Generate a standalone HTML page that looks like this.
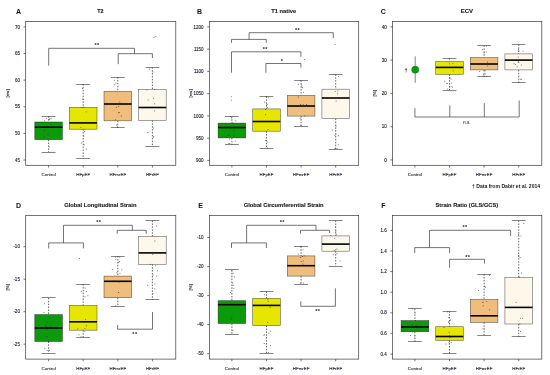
<!DOCTYPE html>
<html><head><meta charset="utf-8"><title>Figure</title>
<style>
html,body{margin:0;padding:0;background:#fff;}
svg{display:block;font-family:"Liberation Sans",Arial,sans-serif;}
</style></head>
<body>
<svg width="550" height="375" viewBox="0 0 550 375">
<rect width="550" height="375" fill="#fff"/>
<rect x="25.7" y="21.5" width="150.1" height="143.8" fill="none" stroke="#3a3a3a" stroke-width="0.7"/>
<text x="15.9" y="14.3" font-size="7.0" text-anchor="start" font-weight="bold" fill="#111">A</text>
<text x="100.3" y="13.4" font-size="6.0" text-anchor="middle" font-weight="bold" fill="#1a1a1a" textLength="6.3" lengthAdjust="spacingAndGlyphs" stroke="#1a1a1a" stroke-width="0.12">T2</text>
<line x1="23.5" y1="26.9" x2="25.7" y2="26.9" stroke="#3a3a3a" stroke-width="0.7"/>
<text x="19.9" y="28.5" font-size="4.5" text-anchor="end" font-weight="normal" fill="#17122e" stroke="#17122e" stroke-width="0.1">70</text>
<line x1="23.5" y1="53.5" x2="25.7" y2="53.5" stroke="#3a3a3a" stroke-width="0.7"/>
<text x="19.9" y="55.1" font-size="4.5" text-anchor="end" font-weight="normal" fill="#17122e" stroke="#17122e" stroke-width="0.1">65</text>
<line x1="23.5" y1="80.1" x2="25.7" y2="80.1" stroke="#3a3a3a" stroke-width="0.7"/>
<text x="19.9" y="81.7" font-size="4.5" text-anchor="end" font-weight="normal" fill="#17122e" stroke="#17122e" stroke-width="0.1">60</text>
<line x1="23.5" y1="106.8" x2="25.7" y2="106.8" stroke="#3a3a3a" stroke-width="0.7"/>
<text x="19.9" y="108.4" font-size="4.5" text-anchor="end" font-weight="normal" fill="#17122e" stroke="#17122e" stroke-width="0.1">55</text>
<line x1="23.5" y1="133.4" x2="25.7" y2="133.4" stroke="#3a3a3a" stroke-width="0.7"/>
<text x="19.9" y="135.0" font-size="4.5" text-anchor="end" font-weight="normal" fill="#17122e" stroke="#17122e" stroke-width="0.1">50</text>
<line x1="23.5" y1="160.0" x2="25.7" y2="160.0" stroke="#3a3a3a" stroke-width="0.7"/>
<text x="19.9" y="161.6" font-size="4.5" text-anchor="end" font-weight="normal" fill="#17122e" stroke="#17122e" stroke-width="0.1">45</text>
<text transform="translate(8.6,93.4) rotate(-90)" font-size="4.4" text-anchor="middle" fill="#17122e" stroke="#17122e" stroke-width="0.12">[ms]</text>
<line x1="48.6" y1="165.3" x2="48.6" y2="167.5" stroke="#3a3a3a" stroke-width="0.7"/>
<text x="48.6" y="175.7" font-size="4.4" text-anchor="middle" font-weight="normal" fill="#17122e" stroke="#17122e" stroke-width="0.08">Control</text>
<line x1="83.2" y1="165.3" x2="83.2" y2="167.5" stroke="#3a3a3a" stroke-width="0.7"/>
<text x="83.2" y="175.7" font-size="4.4" text-anchor="middle" font-weight="normal" fill="#17122e" stroke="#17122e" stroke-width="0.08">HFpEF</text>
<line x1="117.8" y1="165.3" x2="117.8" y2="167.5" stroke="#3a3a3a" stroke-width="0.7"/>
<text x="117.8" y="175.7" font-size="4.4" text-anchor="middle" font-weight="normal" fill="#17122e" stroke="#17122e" stroke-width="0.08">HFmrEF</text>
<line x1="152.4" y1="165.3" x2="152.4" y2="167.5" stroke="#3a3a3a" stroke-width="0.7"/>
<text x="152.4" y="175.7" font-size="4.4" text-anchor="middle" font-weight="normal" fill="#17122e" stroke="#17122e" stroke-width="0.08">HFrEF</text>
<line x1="48.6" y1="116.2" x2="48.6" y2="122.0" stroke="#222" stroke-width="0.7" stroke-dasharray="1.5 1.4"/>
<line x1="48.6" y1="139.6" x2="48.6" y2="152.2" stroke="#222" stroke-width="0.7" stroke-dasharray="1.5 1.4"/>
<line x1="41.7" y1="116.5" x2="55.5" y2="116.5" stroke="#333" stroke-width="0.6"/>
<line x1="41.7" y1="152.5" x2="55.5" y2="152.5" stroke="#333" stroke-width="0.6"/>
<rect x="34.8" y="122.0" width="27.6" height="17.6" fill="#0a9a0a" stroke="#000" stroke-opacity="0.6" stroke-width="0.6"/>
<line x1="34.8" y1="127.2" x2="62.4" y2="127.2" stroke="#000" stroke-width="1.6"/>
<circle cx="48.0" cy="139.6" r="0.5" fill="#2a2a2a" fill-opacity="0.8"/>
<circle cx="49.8" cy="118.8" r="0.5" fill="#2a2a2a" fill-opacity="0.8"/>
<circle cx="46.4" cy="118.3" r="0.5" fill="#2a2a2a" fill-opacity="0.8"/>
<circle cx="48.1" cy="134.5" r="0.5" fill="#2a2a2a" fill-opacity="0.8"/>
<circle cx="51.1" cy="118.7" r="0.5" fill="#2a2a2a" fill-opacity="0.8"/>
<circle cx="49.2" cy="119.5" r="0.5" fill="#2a2a2a" fill-opacity="0.8"/>
<circle cx="44.6" cy="120.7" r="0.5" fill="#2a2a2a" fill-opacity="0.8"/>
<circle cx="50.7" cy="124.2" r="0.5" fill="#2a2a2a" fill-opacity="0.8"/>
<circle cx="44.5" cy="137.0" r="0.5" fill="#2a2a2a" fill-opacity="0.8"/>
<circle cx="44.4" cy="130.5" r="0.5" fill="#2a2a2a" fill-opacity="0.8"/>
<circle cx="49.3" cy="147.1" r="0.5" fill="#2a2a2a" fill-opacity="0.8"/>
<circle cx="48.5" cy="126.6" r="0.5" fill="#2a2a2a" fill-opacity="0.8"/>
<line x1="83.2" y1="84.0" x2="83.2" y2="107.3" stroke="#222" stroke-width="0.7" stroke-dasharray="1.5 1.4"/>
<line x1="83.2" y1="129.2" x2="83.2" y2="158.4" stroke="#222" stroke-width="0.7" stroke-dasharray="1.5 1.4"/>
<line x1="76.3" y1="84.5" x2="90.1" y2="84.5" stroke="#333" stroke-width="0.6"/>
<line x1="76.3" y1="158.5" x2="90.1" y2="158.5" stroke="#333" stroke-width="0.6"/>
<rect x="69.4" y="107.3" width="27.6" height="21.9" fill="#e6e600" stroke="#000" stroke-opacity="0.6" stroke-width="0.6"/>
<line x1="69.4" y1="122.9" x2="97.0" y2="122.9" stroke="#000" stroke-width="1.6"/>
<circle cx="83.9" cy="107.0" r="0.5" fill="#2a2a2a" fill-opacity="0.8"/>
<circle cx="84.1" cy="144.7" r="0.5" fill="#2a2a2a" fill-opacity="0.8"/>
<circle cx="84.5" cy="131.5" r="0.5" fill="#2a2a2a" fill-opacity="0.8"/>
<circle cx="86.1" cy="111.7" r="0.5" fill="#2a2a2a" fill-opacity="0.8"/>
<circle cx="82.4" cy="88.4" r="0.5" fill="#2a2a2a" fill-opacity="0.8"/>
<circle cx="82.9" cy="99.3" r="0.5" fill="#2a2a2a" fill-opacity="0.8"/>
<circle cx="82.1" cy="107.4" r="0.5" fill="#2a2a2a" fill-opacity="0.8"/>
<circle cx="80.9" cy="127.6" r="0.5" fill="#2a2a2a" fill-opacity="0.8"/>
<circle cx="81.3" cy="143.1" r="0.5" fill="#2a2a2a" fill-opacity="0.8"/>
<circle cx="83.8" cy="136.0" r="0.5" fill="#2a2a2a" fill-opacity="0.8"/>
<circle cx="83.3" cy="123.1" r="0.5" fill="#2a2a2a" fill-opacity="0.8"/>
<circle cx="86.3" cy="149.1" r="0.5" fill="#2a2a2a" fill-opacity="0.8"/>
<line x1="117.8" y1="77.1" x2="117.8" y2="91.4" stroke="#222" stroke-width="0.7" stroke-dasharray="1.5 1.4"/>
<line x1="117.8" y1="120.8" x2="117.8" y2="127.9" stroke="#222" stroke-width="0.7" stroke-dasharray="1.5 1.4"/>
<line x1="110.9" y1="77.5" x2="124.7" y2="77.5" stroke="#333" stroke-width="0.6"/>
<line x1="110.9" y1="127.5" x2="124.7" y2="127.5" stroke="#333" stroke-width="0.6"/>
<rect x="104.0" y="91.4" width="27.6" height="29.4" fill="#efbe7d" stroke="#000" stroke-opacity="0.6" stroke-width="0.6"/>
<line x1="104.0" y1="104.0" x2="131.6" y2="104.0" stroke="#000" stroke-width="1.6"/>
<circle cx="117.5" cy="126.9" r="0.5" fill="#2a2a2a" fill-opacity="0.8"/>
<circle cx="115.8" cy="83.1" r="0.5" fill="#2a2a2a" fill-opacity="0.8"/>
<circle cx="114.3" cy="84.8" r="0.5" fill="#2a2a2a" fill-opacity="0.8"/>
<circle cx="119.8" cy="101.9" r="0.5" fill="#2a2a2a" fill-opacity="0.8"/>
<circle cx="121.3" cy="115.9" r="0.5" fill="#2a2a2a" fill-opacity="0.8"/>
<circle cx="118.7" cy="106.2" r="0.5" fill="#2a2a2a" fill-opacity="0.8"/>
<circle cx="119.3" cy="112.4" r="0.5" fill="#2a2a2a" fill-opacity="0.8"/>
<circle cx="116.3" cy="107.3" r="0.5" fill="#2a2a2a" fill-opacity="0.8"/>
<circle cx="115.5" cy="119.8" r="0.5" fill="#2a2a2a" fill-opacity="0.8"/>
<circle cx="116.5" cy="125.1" r="0.5" fill="#2a2a2a" fill-opacity="0.8"/>
<circle cx="114.3" cy="80.2" r="0.5" fill="#2a2a2a" fill-opacity="0.8"/>
<circle cx="118.4" cy="112.7" r="0.5" fill="#2a2a2a" fill-opacity="0.8"/>
<line x1="152.4" y1="67.2" x2="152.4" y2="89.4" stroke="#222" stroke-width="0.7" stroke-dasharray="1.5 1.4"/>
<line x1="152.4" y1="120.4" x2="152.4" y2="146.5" stroke="#222" stroke-width="0.7" stroke-dasharray="1.5 1.4"/>
<line x1="145.5" y1="67.5" x2="159.3" y2="67.5" stroke="#333" stroke-width="0.6"/>
<line x1="145.5" y1="146.5" x2="159.3" y2="146.5" stroke="#333" stroke-width="0.6"/>
<rect x="138.6" y="89.4" width="27.6" height="31.0" fill="#fdf8ea" stroke="#000" stroke-opacity="0.6" stroke-width="0.6"/>
<line x1="138.6" y1="107.5" x2="166.2" y2="107.5" stroke="#000" stroke-width="1.6"/>
<circle cx="147.8" cy="132.4" r="0.5" fill="#2a2a2a" fill-opacity="0.8"/>
<circle cx="146.9" cy="89.8" r="0.5" fill="#2a2a2a" fill-opacity="0.8"/>
<circle cx="149.7" cy="69.0" r="0.5" fill="#2a2a2a" fill-opacity="0.8"/>
<circle cx="154.7" cy="103.8" r="0.5" fill="#2a2a2a" fill-opacity="0.8"/>
<circle cx="153.0" cy="71.9" r="0.5" fill="#2a2a2a" fill-opacity="0.8"/>
<circle cx="153.4" cy="128.1" r="0.5" fill="#2a2a2a" fill-opacity="0.8"/>
<circle cx="153.6" cy="98.2" r="0.5" fill="#2a2a2a" fill-opacity="0.8"/>
<circle cx="153.7" cy="136.3" r="0.5" fill="#2a2a2a" fill-opacity="0.8"/>
<circle cx="154.7" cy="110.8" r="0.5" fill="#2a2a2a" fill-opacity="0.8"/>
<circle cx="153.7" cy="137.3" r="0.5" fill="#2a2a2a" fill-opacity="0.8"/>
<circle cx="154.4" cy="89.3" r="0.5" fill="#2a2a2a" fill-opacity="0.8"/>
<circle cx="148.1" cy="100.1" r="0.5" fill="#2a2a2a" fill-opacity="0.8"/>
<circle cx="154.0" cy="37.6" r="0.5" fill="#2a2a2a" fill-opacity="0.8"/>
<circle cx="155.8" cy="36.4" r="0.5" fill="#2a2a2a" fill-opacity="0.8"/>
<polyline points="48.7,65.7 48.7,48.3 134.5,48.3 134.5,53.7" fill="none" stroke="#3a3a3a" stroke-width="0.7"/>
<polyline points="118.2,64.2 118.2,53.7 152.4,53.7 152.4,58.0" fill="none" stroke="#3a3a3a" stroke-width="0.7"/>
<text x="97.1" y="47.4" font-size="5.6" text-anchor="middle" font-weight="bold" fill="#1a1a1a" letter-spacing="0.35">**</text>
<rect x="209.4" y="21.5" width="149.3" height="143.8" fill="none" stroke="#3a3a3a" stroke-width="0.7"/>
<text x="197.1" y="14.3" font-size="7.0" text-anchor="start" font-weight="bold" fill="#111">B</text>
<text x="283.7" y="13.4" font-size="6.0" text-anchor="middle" font-weight="bold" fill="#1a1a1a" textLength="25.0" lengthAdjust="spacingAndGlyphs" stroke="#1a1a1a" stroke-width="0.12">T1 native</text>
<line x1="207.2" y1="26.9" x2="209.4" y2="26.9" stroke="#3a3a3a" stroke-width="0.7"/>
<text x="203.6" y="28.5" font-size="4.5" text-anchor="end" font-weight="normal" fill="#17122e" stroke="#17122e" stroke-width="0.1">1200</text>
<line x1="207.2" y1="49.1" x2="209.4" y2="49.1" stroke="#3a3a3a" stroke-width="0.7"/>
<text x="203.6" y="50.8" font-size="4.5" text-anchor="end" font-weight="normal" fill="#17122e" stroke="#17122e" stroke-width="0.1">1150</text>
<line x1="207.2" y1="71.4" x2="209.4" y2="71.4" stroke="#3a3a3a" stroke-width="0.7"/>
<text x="203.6" y="73.0" font-size="4.5" text-anchor="end" font-weight="normal" fill="#17122e" stroke="#17122e" stroke-width="0.1">1100</text>
<line x1="207.2" y1="93.7" x2="209.4" y2="93.7" stroke="#3a3a3a" stroke-width="0.7"/>
<text x="203.6" y="95.2" font-size="4.5" text-anchor="end" font-weight="normal" fill="#17122e" stroke="#17122e" stroke-width="0.1">1050</text>
<line x1="207.2" y1="115.9" x2="209.4" y2="115.9" stroke="#3a3a3a" stroke-width="0.7"/>
<text x="203.6" y="117.5" font-size="4.5" text-anchor="end" font-weight="normal" fill="#17122e" stroke="#17122e" stroke-width="0.1">1000</text>
<line x1="207.2" y1="138.2" x2="209.4" y2="138.2" stroke="#3a3a3a" stroke-width="0.7"/>
<text x="203.6" y="139.8" font-size="4.5" text-anchor="end" font-weight="normal" fill="#17122e" stroke="#17122e" stroke-width="0.1">950</text>
<line x1="207.2" y1="160.4" x2="209.4" y2="160.4" stroke="#3a3a3a" stroke-width="0.7"/>
<text x="203.6" y="162.0" font-size="4.5" text-anchor="end" font-weight="normal" fill="#17122e" stroke="#17122e" stroke-width="0.1">900</text>
<text transform="translate(192.3,93.4) rotate(-90)" font-size="4.4" text-anchor="middle" fill="#17122e" stroke="#17122e" stroke-width="0.12">[ms]</text>
<line x1="231.9" y1="165.3" x2="231.9" y2="167.5" stroke="#3a3a3a" stroke-width="0.7"/>
<text x="231.9" y="175.7" font-size="4.4" text-anchor="middle" font-weight="normal" fill="#17122e" stroke="#17122e" stroke-width="0.08">Control</text>
<line x1="266.5" y1="165.3" x2="266.5" y2="167.5" stroke="#3a3a3a" stroke-width="0.7"/>
<text x="266.5" y="175.7" font-size="4.4" text-anchor="middle" font-weight="normal" fill="#17122e" stroke="#17122e" stroke-width="0.08">HFpEF</text>
<line x1="301.1" y1="165.3" x2="301.1" y2="167.5" stroke="#3a3a3a" stroke-width="0.7"/>
<text x="301.1" y="175.7" font-size="4.4" text-anchor="middle" font-weight="normal" fill="#17122e" stroke="#17122e" stroke-width="0.08">HFmrEF</text>
<line x1="335.7" y1="165.3" x2="335.7" y2="167.5" stroke="#3a3a3a" stroke-width="0.7"/>
<text x="335.7" y="175.7" font-size="4.4" text-anchor="middle" font-weight="normal" fill="#17122e" stroke="#17122e" stroke-width="0.08">HFrEF</text>
<line x1="231.9" y1="116.4" x2="231.9" y2="123.1" stroke="#222" stroke-width="0.7" stroke-dasharray="1.5 1.4"/>
<line x1="231.9" y1="137.9" x2="231.9" y2="144.7" stroke="#222" stroke-width="0.7" stroke-dasharray="1.5 1.4"/>
<line x1="225.0" y1="116.5" x2="238.8" y2="116.5" stroke="#333" stroke-width="0.6"/>
<line x1="225.0" y1="144.5" x2="238.8" y2="144.5" stroke="#333" stroke-width="0.6"/>
<rect x="218.1" y="123.1" width="27.6" height="14.8" fill="#0a9a0a" stroke="#000" stroke-opacity="0.6" stroke-width="0.6"/>
<line x1="218.1" y1="127.5" x2="245.7" y2="127.5" stroke="#000" stroke-width="1.6"/>
<circle cx="228.8" cy="143.5" r="0.5" fill="#2a2a2a" fill-opacity="0.8"/>
<circle cx="235.8" cy="120.7" r="0.5" fill="#2a2a2a" fill-opacity="0.8"/>
<circle cx="232.7" cy="123.0" r="0.5" fill="#2a2a2a" fill-opacity="0.8"/>
<circle cx="233.5" cy="130.1" r="0.5" fill="#2a2a2a" fill-opacity="0.8"/>
<circle cx="230.3" cy="116.5" r="0.5" fill="#2a2a2a" fill-opacity="0.8"/>
<circle cx="230.9" cy="128.3" r="0.5" fill="#2a2a2a" fill-opacity="0.8"/>
<circle cx="229.8" cy="143.4" r="0.5" fill="#2a2a2a" fill-opacity="0.8"/>
<circle cx="234.2" cy="135.9" r="0.5" fill="#2a2a2a" fill-opacity="0.8"/>
<circle cx="228.6" cy="135.5" r="0.5" fill="#2a2a2a" fill-opacity="0.8"/>
<circle cx="231.6" cy="117.9" r="0.5" fill="#2a2a2a" fill-opacity="0.8"/>
<circle cx="235.3" cy="141.1" r="0.5" fill="#2a2a2a" fill-opacity="0.8"/>
<circle cx="229.4" cy="139.0" r="0.5" fill="#2a2a2a" fill-opacity="0.8"/>
<line x1="266.5" y1="96.5" x2="266.5" y2="108.9" stroke="#222" stroke-width="0.7" stroke-dasharray="1.5 1.4"/>
<line x1="266.5" y1="131.2" x2="266.5" y2="148.5" stroke="#222" stroke-width="0.7" stroke-dasharray="1.5 1.4"/>
<line x1="259.6" y1="96.5" x2="273.4" y2="96.5" stroke="#333" stroke-width="0.6"/>
<line x1="259.6" y1="148.5" x2="273.4" y2="148.5" stroke="#333" stroke-width="0.6"/>
<rect x="252.7" y="108.9" width="27.6" height="22.3" fill="#e6e600" stroke="#000" stroke-opacity="0.6" stroke-width="0.6"/>
<line x1="252.7" y1="121.5" x2="280.3" y2="121.5" stroke="#000" stroke-width="1.6"/>
<circle cx="264.6" cy="101.9" r="0.5" fill="#2a2a2a" fill-opacity="0.8"/>
<circle cx="268.0" cy="129.5" r="0.5" fill="#2a2a2a" fill-opacity="0.8"/>
<circle cx="267.3" cy="107.4" r="0.5" fill="#2a2a2a" fill-opacity="0.8"/>
<circle cx="266.8" cy="104.9" r="0.5" fill="#2a2a2a" fill-opacity="0.8"/>
<circle cx="266.1" cy="96.5" r="0.5" fill="#2a2a2a" fill-opacity="0.8"/>
<circle cx="267.2" cy="104.4" r="0.5" fill="#2a2a2a" fill-opacity="0.8"/>
<circle cx="268.3" cy="97.8" r="0.5" fill="#2a2a2a" fill-opacity="0.8"/>
<circle cx="267.9" cy="142.0" r="0.5" fill="#2a2a2a" fill-opacity="0.8"/>
<circle cx="265.5" cy="109.6" r="0.5" fill="#2a2a2a" fill-opacity="0.8"/>
<circle cx="265.6" cy="114.6" r="0.5" fill="#2a2a2a" fill-opacity="0.8"/>
<circle cx="265.7" cy="140.6" r="0.5" fill="#2a2a2a" fill-opacity="0.8"/>
<circle cx="267.4" cy="148.1" r="0.5" fill="#2a2a2a" fill-opacity="0.8"/>
<line x1="301.1" y1="80.3" x2="301.1" y2="95.4" stroke="#222" stroke-width="0.7" stroke-dasharray="1.5 1.4"/>
<line x1="301.1" y1="116.1" x2="301.1" y2="126.2" stroke="#222" stroke-width="0.7" stroke-dasharray="1.5 1.4"/>
<line x1="294.2" y1="80.5" x2="308.0" y2="80.5" stroke="#333" stroke-width="0.6"/>
<line x1="294.2" y1="126.5" x2="308.0" y2="126.5" stroke="#333" stroke-width="0.6"/>
<rect x="287.3" y="95.4" width="27.6" height="20.7" fill="#efbe7d" stroke="#000" stroke-opacity="0.6" stroke-width="0.6"/>
<line x1="287.3" y1="106.0" x2="314.9" y2="106.0" stroke="#000" stroke-width="1.6"/>
<circle cx="298.4" cy="84.2" r="0.5" fill="#2a2a2a" fill-opacity="0.8"/>
<circle cx="301.7" cy="85.0" r="0.5" fill="#2a2a2a" fill-opacity="0.8"/>
<circle cx="300.1" cy="118.3" r="0.5" fill="#2a2a2a" fill-opacity="0.8"/>
<circle cx="302.7" cy="87.7" r="0.5" fill="#2a2a2a" fill-opacity="0.8"/>
<circle cx="306.6" cy="104.5" r="0.5" fill="#2a2a2a" fill-opacity="0.8"/>
<circle cx="302.0" cy="87.0" r="0.5" fill="#2a2a2a" fill-opacity="0.8"/>
<circle cx="300.6" cy="104.5" r="0.5" fill="#2a2a2a" fill-opacity="0.8"/>
<circle cx="300.9" cy="125.2" r="0.5" fill="#2a2a2a" fill-opacity="0.8"/>
<circle cx="303.5" cy="92.3" r="0.5" fill="#2a2a2a" fill-opacity="0.8"/>
<circle cx="298.3" cy="97.1" r="0.5" fill="#2a2a2a" fill-opacity="0.8"/>
<circle cx="303.2" cy="104.7" r="0.5" fill="#2a2a2a" fill-opacity="0.8"/>
<circle cx="304.7" cy="116.1" r="0.5" fill="#2a2a2a" fill-opacity="0.8"/>
<line x1="335.7" y1="74.4" x2="335.7" y2="89.2" stroke="#222" stroke-width="0.7" stroke-dasharray="1.5 1.4"/>
<line x1="335.7" y1="118.6" x2="335.7" y2="149.4" stroke="#222" stroke-width="0.7" stroke-dasharray="1.5 1.4"/>
<line x1="328.8" y1="74.5" x2="342.6" y2="74.5" stroke="#333" stroke-width="0.6"/>
<line x1="328.8" y1="149.5" x2="342.6" y2="149.5" stroke="#333" stroke-width="0.6"/>
<rect x="321.9" y="89.2" width="27.6" height="29.4" fill="#fdf8ea" stroke="#000" stroke-opacity="0.6" stroke-width="0.6"/>
<line x1="321.9" y1="98.0" x2="349.5" y2="98.0" stroke="#000" stroke-width="1.6"/>
<circle cx="334.9" cy="135.3" r="0.5" fill="#2a2a2a" fill-opacity="0.8"/>
<circle cx="337.2" cy="148.3" r="0.5" fill="#2a2a2a" fill-opacity="0.8"/>
<circle cx="338.3" cy="135.8" r="0.5" fill="#2a2a2a" fill-opacity="0.8"/>
<circle cx="332.2" cy="129.9" r="0.5" fill="#2a2a2a" fill-opacity="0.8"/>
<circle cx="336.1" cy="101.1" r="0.5" fill="#2a2a2a" fill-opacity="0.8"/>
<circle cx="338.6" cy="76.6" r="0.5" fill="#2a2a2a" fill-opacity="0.8"/>
<circle cx="337.6" cy="93.8" r="0.5" fill="#2a2a2a" fill-opacity="0.8"/>
<circle cx="336.0" cy="126.3" r="0.5" fill="#2a2a2a" fill-opacity="0.8"/>
<circle cx="338.2" cy="144.7" r="0.5" fill="#2a2a2a" fill-opacity="0.8"/>
<circle cx="335.0" cy="148.5" r="0.5" fill="#2a2a2a" fill-opacity="0.8"/>
<circle cx="337.9" cy="90.9" r="0.5" fill="#2a2a2a" fill-opacity="0.8"/>
<circle cx="335.1" cy="91.4" r="0.5" fill="#2a2a2a" fill-opacity="0.8"/>
<circle cx="231.3" cy="96.8" r="0.5" fill="#2a2a2a" fill-opacity="0.8"/>
<circle cx="231.3" cy="100.1" r="0.5" fill="#2a2a2a" fill-opacity="0.8"/>
<circle cx="335.0" cy="44.5" r="0.5" fill="#2a2a2a" fill-opacity="0.8"/>
<circle cx="304.7" cy="59.6" r="0.5" fill="#2a2a2a" fill-opacity="0.8"/>
<polyline points="249.1,39.4 249.1,32.7 333.3,32.7 333.3,38.3" fill="none" stroke="#3a3a3a" stroke-width="0.7"/>
<polyline points="231.5,42.8 231.5,39.4 266.3,39.4 266.3,42.8" fill="none" stroke="#3a3a3a" stroke-width="0.7"/>
<text x="297.6" y="31.8" font-size="5.6" text-anchor="middle" font-weight="bold" fill="#1a1a1a" letter-spacing="0.35">**</text>
<polyline points="231.5,72.7 231.5,51.8 300.9,51.8 300.9,56.8" fill="none" stroke="#3a3a3a" stroke-width="0.7"/>
<text x="265.2" y="50.7" font-size="5.6" text-anchor="middle" font-weight="bold" fill="#1a1a1a" letter-spacing="0.35">**</text>
<polyline points="265.9,72.7 265.9,63.5 300.9,63.5 300.9,67.7" fill="none" stroke="#3a3a3a" stroke-width="0.7"/>
<text x="282.0" y="63.4" font-size="5.6" text-anchor="middle" font-weight="bold" fill="#1a1a1a" letter-spacing="0.35">*</text>
<rect x="392.6" y="21.5" width="149.2" height="143.8" fill="none" stroke="#3a3a3a" stroke-width="0.7"/>
<text x="380.8" y="14.3" font-size="7.0" text-anchor="start" font-weight="bold" fill="#111">C</text>
<text x="466.8" y="13.4" font-size="6.0" text-anchor="middle" font-weight="bold" fill="#1a1a1a" textLength="12.3" lengthAdjust="spacingAndGlyphs" stroke="#1a1a1a" stroke-width="0.12">ECV</text>
<line x1="390.4" y1="26.9" x2="392.6" y2="26.9" stroke="#3a3a3a" stroke-width="0.7"/>
<text x="386.8" y="28.5" font-size="4.5" text-anchor="end" font-weight="normal" fill="#17122e" stroke="#17122e" stroke-width="0.1">40</text>
<line x1="390.4" y1="60.1" x2="392.6" y2="60.1" stroke="#3a3a3a" stroke-width="0.7"/>
<text x="386.8" y="61.8" font-size="4.5" text-anchor="end" font-weight="normal" fill="#17122e" stroke="#17122e" stroke-width="0.1">30</text>
<line x1="390.4" y1="93.4" x2="392.6" y2="93.4" stroke="#3a3a3a" stroke-width="0.7"/>
<text x="386.8" y="95.0" font-size="4.5" text-anchor="end" font-weight="normal" fill="#17122e" stroke="#17122e" stroke-width="0.1">20</text>
<line x1="390.4" y1="126.7" x2="392.6" y2="126.7" stroke="#3a3a3a" stroke-width="0.7"/>
<text x="386.8" y="128.2" font-size="4.5" text-anchor="end" font-weight="normal" fill="#17122e" stroke="#17122e" stroke-width="0.1">10</text>
<line x1="390.4" y1="159.9" x2="392.6" y2="159.9" stroke="#3a3a3a" stroke-width="0.7"/>
<text x="386.8" y="161.5" font-size="4.5" text-anchor="end" font-weight="normal" fill="#17122e" stroke="#17122e" stroke-width="0.1">0</text>
<text transform="translate(375.5,93.4) rotate(-90)" font-size="4.4" text-anchor="middle" fill="#17122e" stroke="#17122e" stroke-width="0.12">[%]</text>
<line x1="414.9" y1="165.3" x2="414.9" y2="167.5" stroke="#3a3a3a" stroke-width="0.7"/>
<text x="414.9" y="175.7" font-size="4.4" text-anchor="middle" font-weight="normal" fill="#17122e" stroke="#17122e" stroke-width="0.08">Control</text>
<line x1="449.5" y1="165.3" x2="449.5" y2="167.5" stroke="#3a3a3a" stroke-width="0.7"/>
<text x="449.5" y="175.7" font-size="4.4" text-anchor="middle" font-weight="normal" fill="#17122e" stroke="#17122e" stroke-width="0.08">HFpEF</text>
<line x1="484.1" y1="165.3" x2="484.1" y2="167.5" stroke="#3a3a3a" stroke-width="0.7"/>
<text x="484.1" y="175.7" font-size="4.4" text-anchor="middle" font-weight="normal" fill="#17122e" stroke="#17122e" stroke-width="0.08">HFmrEF</text>
<line x1="518.7" y1="165.3" x2="518.7" y2="167.5" stroke="#3a3a3a" stroke-width="0.7"/>
<text x="518.7" y="175.7" font-size="4.4" text-anchor="middle" font-weight="normal" fill="#17122e" stroke="#17122e" stroke-width="0.08">HFrEF</text>
<line x1="449.5" y1="58.1" x2="449.5" y2="61.5" stroke="#222" stroke-width="0.7" stroke-dasharray="1.5 1.4"/>
<line x1="449.5" y1="74.4" x2="449.5" y2="90.0" stroke="#222" stroke-width="0.7" stroke-dasharray="1.5 1.4"/>
<line x1="442.6" y1="58.5" x2="456.4" y2="58.5" stroke="#333" stroke-width="0.6"/>
<line x1="442.6" y1="90.5" x2="456.4" y2="90.5" stroke="#333" stroke-width="0.6"/>
<rect x="435.7" y="61.5" width="27.6" height="12.9" fill="#e6e600" stroke="#000" stroke-opacity="0.6" stroke-width="0.6"/>
<line x1="435.7" y1="67.4" x2="463.3" y2="67.4" stroke="#000" stroke-width="1.6"/>
<circle cx="450.0" cy="78.0" r="0.5" fill="#2a2a2a" fill-opacity="0.8"/>
<circle cx="451.0" cy="86.8" r="0.5" fill="#2a2a2a" fill-opacity="0.8"/>
<circle cx="451.0" cy="78.9" r="0.5" fill="#2a2a2a" fill-opacity="0.8"/>
<circle cx="447.2" cy="83.6" r="0.5" fill="#2a2a2a" fill-opacity="0.8"/>
<circle cx="452.5" cy="87.1" r="0.5" fill="#2a2a2a" fill-opacity="0.8"/>
<circle cx="451.3" cy="83.1" r="0.5" fill="#2a2a2a" fill-opacity="0.8"/>
<circle cx="449.5" cy="63.8" r="0.5" fill="#2a2a2a" fill-opacity="0.8"/>
<circle cx="446.8" cy="83.3" r="0.5" fill="#2a2a2a" fill-opacity="0.8"/>
<circle cx="447.4" cy="89.1" r="0.5" fill="#2a2a2a" fill-opacity="0.8"/>
<circle cx="453.2" cy="70.7" r="0.5" fill="#2a2a2a" fill-opacity="0.8"/>
<circle cx="444.8" cy="81.2" r="0.5" fill="#2a2a2a" fill-opacity="0.8"/>
<circle cx="452.9" cy="63.5" r="0.5" fill="#2a2a2a" fill-opacity="0.8"/>
<line x1="484.1" y1="45.5" x2="484.1" y2="57.6" stroke="#222" stroke-width="0.7" stroke-dasharray="1.5 1.4"/>
<line x1="484.1" y1="69.9" x2="484.1" y2="76.9" stroke="#222" stroke-width="0.7" stroke-dasharray="1.5 1.4"/>
<line x1="477.2" y1="45.5" x2="491.0" y2="45.5" stroke="#333" stroke-width="0.6"/>
<line x1="477.2" y1="76.5" x2="491.0" y2="76.5" stroke="#333" stroke-width="0.6"/>
<rect x="470.3" y="57.6" width="27.6" height="12.3" fill="#efbe7d" stroke="#000" stroke-opacity="0.6" stroke-width="0.6"/>
<line x1="470.3" y1="64.0" x2="497.9" y2="64.0" stroke="#000" stroke-width="1.6"/>
<circle cx="485.1" cy="73.9" r="0.5" fill="#2a2a2a" fill-opacity="0.8"/>
<circle cx="485.1" cy="70.8" r="0.5" fill="#2a2a2a" fill-opacity="0.8"/>
<circle cx="486.8" cy="76.3" r="0.5" fill="#2a2a2a" fill-opacity="0.8"/>
<circle cx="487.7" cy="66.1" r="0.5" fill="#2a2a2a" fill-opacity="0.8"/>
<circle cx="482.3" cy="49.6" r="0.5" fill="#2a2a2a" fill-opacity="0.8"/>
<circle cx="486.5" cy="45.9" r="0.5" fill="#2a2a2a" fill-opacity="0.8"/>
<circle cx="487.5" cy="62.0" r="0.5" fill="#2a2a2a" fill-opacity="0.8"/>
<circle cx="483.5" cy="74.8" r="0.5" fill="#2a2a2a" fill-opacity="0.8"/>
<circle cx="479.7" cy="71.4" r="0.5" fill="#2a2a2a" fill-opacity="0.8"/>
<circle cx="486.1" cy="52.1" r="0.5" fill="#2a2a2a" fill-opacity="0.8"/>
<circle cx="484.1" cy="53.1" r="0.5" fill="#2a2a2a" fill-opacity="0.8"/>
<circle cx="486.1" cy="63.9" r="0.5" fill="#2a2a2a" fill-opacity="0.8"/>
<line x1="518.7" y1="44.5" x2="518.7" y2="53.9" stroke="#222" stroke-width="0.7" stroke-dasharray="1.5 1.4"/>
<line x1="518.7" y1="69.9" x2="518.7" y2="82.8" stroke="#222" stroke-width="0.7" stroke-dasharray="1.5 1.4"/>
<line x1="511.8" y1="44.5" x2="525.6" y2="44.5" stroke="#333" stroke-width="0.6"/>
<line x1="511.8" y1="82.5" x2="525.6" y2="82.5" stroke="#333" stroke-width="0.6"/>
<rect x="504.9" y="53.9" width="27.6" height="16.0" fill="#fdf8ea" stroke="#000" stroke-opacity="0.6" stroke-width="0.6"/>
<line x1="504.9" y1="60.1" x2="532.5" y2="60.1" stroke="#000" stroke-width="1.6"/>
<circle cx="518.6" cy="49.5" r="0.5" fill="#2a2a2a" fill-opacity="0.8"/>
<circle cx="521.2" cy="79.4" r="0.5" fill="#2a2a2a" fill-opacity="0.8"/>
<circle cx="517.1" cy="66.8" r="0.5" fill="#2a2a2a" fill-opacity="0.8"/>
<circle cx="520.8" cy="79.1" r="0.5" fill="#2a2a2a" fill-opacity="0.8"/>
<circle cx="514.0" cy="63.7" r="0.5" fill="#2a2a2a" fill-opacity="0.8"/>
<circle cx="521.3" cy="64.9" r="0.5" fill="#2a2a2a" fill-opacity="0.8"/>
<circle cx="518.2" cy="61.4" r="0.5" fill="#2a2a2a" fill-opacity="0.8"/>
<circle cx="518.6" cy="51.5" r="0.5" fill="#2a2a2a" fill-opacity="0.8"/>
<circle cx="523.0" cy="51.1" r="0.5" fill="#2a2a2a" fill-opacity="0.8"/>
<circle cx="518.8" cy="62.6" r="0.5" fill="#2a2a2a" fill-opacity="0.8"/>
<circle cx="518.2" cy="57.0" r="0.5" fill="#2a2a2a" fill-opacity="0.8"/>
<circle cx="515.7" cy="64.4" r="0.5" fill="#2a2a2a" fill-opacity="0.8"/>
<line x1="415.2" y1="56.3" x2="415.2" y2="82.8" stroke="#666" stroke-width="0.8"/>
<circle cx="415.2" cy="69.7" r="3.6" fill="#0a9a0a" stroke="#087808" stroke-width="0.4"/>
<text x="406.0" y="71.8" font-size="5.6" text-anchor="middle" font-weight="bold" fill="#222">†</text>
<polyline points="414.9,108.1 414.9,117.0 519.2,117.0 519.2,100.5" fill="none" stroke="#3a3a3a" stroke-width="0.7"/>
<line x1="449.8" y1="105.4" x2="449.8" y2="117.0" stroke="#3a3a3a" stroke-width="0.7"/>
<line x1="484.3" y1="103.2" x2="484.3" y2="117.0" stroke="#3a3a3a" stroke-width="0.7"/>
<text x="466.8" y="124.4" font-size="4.7" text-anchor="middle" font-weight="normal" fill="#111">n.s.</text>
<text x="540.2" y="187.5" font-size="5.1" text-anchor="end" font-weight="bold" fill="#1a1a1a">† Data from Dabir et al. 2014</text>
<rect x="25.7" y="215.6" width="150.1" height="143.5" fill="none" stroke="#3a3a3a" stroke-width="0.7"/>
<text x="15.9" y="207.5" font-size="7.0" text-anchor="start" font-weight="bold" fill="#111">D</text>
<text x="100.3" y="206.9" font-size="6.0" text-anchor="middle" font-weight="bold" fill="#1a1a1a" textLength="72.3" lengthAdjust="spacingAndGlyphs" stroke="#1a1a1a" stroke-width="0.12">Global Longitudinal Strain</text>
<line x1="23.5" y1="246.7" x2="25.7" y2="246.7" stroke="#3a3a3a" stroke-width="0.7"/>
<text x="19.9" y="248.3" font-size="4.5" text-anchor="end" font-weight="normal" fill="#17122e" stroke="#17122e" stroke-width="0.1">-10</text>
<line x1="23.5" y1="279.2" x2="25.7" y2="279.2" stroke="#3a3a3a" stroke-width="0.7"/>
<text x="19.9" y="280.8" font-size="4.5" text-anchor="end" font-weight="normal" fill="#17122e" stroke="#17122e" stroke-width="0.1">-15</text>
<line x1="23.5" y1="311.7" x2="25.7" y2="311.7" stroke="#3a3a3a" stroke-width="0.7"/>
<text x="19.9" y="313.3" font-size="4.5" text-anchor="end" font-weight="normal" fill="#17122e" stroke="#17122e" stroke-width="0.1">-20</text>
<line x1="23.5" y1="344.2" x2="25.7" y2="344.2" stroke="#3a3a3a" stroke-width="0.7"/>
<text x="19.9" y="345.8" font-size="4.5" text-anchor="end" font-weight="normal" fill="#17122e" stroke="#17122e" stroke-width="0.1">-25</text>
<text transform="translate(8.6,287.4) rotate(-90)" font-size="4.4" text-anchor="middle" fill="#17122e" stroke="#17122e" stroke-width="0.12">[%]</text>
<line x1="48.6" y1="359.1" x2="48.6" y2="361.3" stroke="#3a3a3a" stroke-width="0.7"/>
<text x="48.6" y="369.5" font-size="4.4" text-anchor="middle" font-weight="normal" fill="#17122e" stroke="#17122e" stroke-width="0.08">Control</text>
<line x1="83.2" y1="359.1" x2="83.2" y2="361.3" stroke="#3a3a3a" stroke-width="0.7"/>
<text x="83.2" y="369.5" font-size="4.4" text-anchor="middle" font-weight="normal" fill="#17122e" stroke="#17122e" stroke-width="0.08">HFpEF</text>
<line x1="117.8" y1="359.1" x2="117.8" y2="361.3" stroke="#3a3a3a" stroke-width="0.7"/>
<text x="117.8" y="369.5" font-size="4.4" text-anchor="middle" font-weight="normal" fill="#17122e" stroke="#17122e" stroke-width="0.08">HFmrEF</text>
<line x1="152.4" y1="359.1" x2="152.4" y2="361.3" stroke="#3a3a3a" stroke-width="0.7"/>
<text x="152.4" y="369.5" font-size="4.4" text-anchor="middle" font-weight="normal" fill="#17122e" stroke="#17122e" stroke-width="0.08">HFrEF</text>
<line x1="48.6" y1="297.9" x2="48.6" y2="314.6" stroke="#222" stroke-width="0.7" stroke-dasharray="1.5 1.4"/>
<line x1="48.6" y1="341.5" x2="48.6" y2="353.7" stroke="#222" stroke-width="0.7" stroke-dasharray="1.5 1.4"/>
<line x1="41.7" y1="297.5" x2="55.5" y2="297.5" stroke="#333" stroke-width="0.6"/>
<line x1="41.7" y1="353.5" x2="55.5" y2="353.5" stroke="#333" stroke-width="0.6"/>
<rect x="34.8" y="314.6" width="27.6" height="26.9" fill="#0a9a0a" stroke="#000" stroke-opacity="0.6" stroke-width="0.6"/>
<line x1="34.8" y1="328.0" x2="62.4" y2="328.0" stroke="#000" stroke-width="1.6"/>
<circle cx="44.6" cy="303.8" r="0.5" fill="#2a2a2a" fill-opacity="0.8"/>
<circle cx="47.2" cy="329.2" r="0.5" fill="#2a2a2a" fill-opacity="0.8"/>
<circle cx="48.6" cy="341.0" r="0.5" fill="#2a2a2a" fill-opacity="0.8"/>
<circle cx="50.5" cy="326.2" r="0.5" fill="#2a2a2a" fill-opacity="0.8"/>
<circle cx="44.8" cy="348.8" r="0.5" fill="#2a2a2a" fill-opacity="0.8"/>
<circle cx="47.1" cy="322.6" r="0.5" fill="#2a2a2a" fill-opacity="0.8"/>
<circle cx="46.4" cy="326.5" r="0.5" fill="#2a2a2a" fill-opacity="0.8"/>
<circle cx="46.7" cy="336.6" r="0.5" fill="#2a2a2a" fill-opacity="0.8"/>
<circle cx="45.8" cy="324.6" r="0.5" fill="#2a2a2a" fill-opacity="0.8"/>
<circle cx="49.5" cy="350.4" r="0.5" fill="#2a2a2a" fill-opacity="0.8"/>
<circle cx="47.1" cy="350.5" r="0.5" fill="#2a2a2a" fill-opacity="0.8"/>
<circle cx="43.9" cy="312.4" r="0.5" fill="#2a2a2a" fill-opacity="0.8"/>
<line x1="83.2" y1="284.0" x2="83.2" y2="305.5" stroke="#222" stroke-width="0.7" stroke-dasharray="1.5 1.4"/>
<line x1="83.2" y1="330.2" x2="83.2" y2="337.3" stroke="#222" stroke-width="0.7" stroke-dasharray="1.5 1.4"/>
<line x1="76.3" y1="284.5" x2="90.1" y2="284.5" stroke="#333" stroke-width="0.6"/>
<line x1="76.3" y1="337.5" x2="90.1" y2="337.5" stroke="#333" stroke-width="0.6"/>
<rect x="69.4" y="305.5" width="27.6" height="24.7" fill="#e6e600" stroke="#000" stroke-opacity="0.6" stroke-width="0.6"/>
<line x1="69.4" y1="321.8" x2="97.0" y2="321.8" stroke="#000" stroke-width="1.6"/>
<circle cx="77.8" cy="328.8" r="0.5" fill="#2a2a2a" fill-opacity="0.8"/>
<circle cx="81.1" cy="291.3" r="0.5" fill="#2a2a2a" fill-opacity="0.8"/>
<circle cx="85.1" cy="287.9" r="0.5" fill="#2a2a2a" fill-opacity="0.8"/>
<circle cx="85.0" cy="296.8" r="0.5" fill="#2a2a2a" fill-opacity="0.8"/>
<circle cx="86.4" cy="325.8" r="0.5" fill="#2a2a2a" fill-opacity="0.8"/>
<circle cx="84.8" cy="331.8" r="0.5" fill="#2a2a2a" fill-opacity="0.8"/>
<circle cx="85.4" cy="319.2" r="0.5" fill="#2a2a2a" fill-opacity="0.8"/>
<circle cx="86.3" cy="291.6" r="0.5" fill="#2a2a2a" fill-opacity="0.8"/>
<circle cx="87.9" cy="295.7" r="0.5" fill="#2a2a2a" fill-opacity="0.8"/>
<circle cx="79.0" cy="334.8" r="0.5" fill="#2a2a2a" fill-opacity="0.8"/>
<circle cx="81.0" cy="336.8" r="0.5" fill="#2a2a2a" fill-opacity="0.8"/>
<circle cx="84.9" cy="328.4" r="0.5" fill="#2a2a2a" fill-opacity="0.8"/>
<line x1="117.8" y1="256.1" x2="117.8" y2="276.1" stroke="#222" stroke-width="0.7" stroke-dasharray="1.5 1.4"/>
<line x1="117.8" y1="297.7" x2="117.8" y2="306.5" stroke="#222" stroke-width="0.7" stroke-dasharray="1.5 1.4"/>
<line x1="110.9" y1="256.5" x2="124.7" y2="256.5" stroke="#333" stroke-width="0.6"/>
<line x1="110.9" y1="306.5" x2="124.7" y2="306.5" stroke="#333" stroke-width="0.6"/>
<rect x="104.0" y="276.1" width="27.6" height="21.6" fill="#efbe7d" stroke="#000" stroke-opacity="0.6" stroke-width="0.6"/>
<line x1="104.0" y1="281.3" x2="131.6" y2="281.3" stroke="#000" stroke-width="1.6"/>
<circle cx="119.1" cy="282.1" r="0.5" fill="#2a2a2a" fill-opacity="0.8"/>
<circle cx="120.0" cy="273.2" r="0.5" fill="#2a2a2a" fill-opacity="0.8"/>
<circle cx="118.5" cy="292.5" r="0.5" fill="#2a2a2a" fill-opacity="0.8"/>
<circle cx="119.8" cy="257.1" r="0.5" fill="#2a2a2a" fill-opacity="0.8"/>
<circle cx="115.4" cy="257.0" r="0.5" fill="#2a2a2a" fill-opacity="0.8"/>
<circle cx="116.9" cy="272.8" r="0.5" fill="#2a2a2a" fill-opacity="0.8"/>
<circle cx="115.8" cy="259.3" r="0.5" fill="#2a2a2a" fill-opacity="0.8"/>
<circle cx="115.8" cy="305.7" r="0.5" fill="#2a2a2a" fill-opacity="0.8"/>
<circle cx="119.3" cy="261.4" r="0.5" fill="#2a2a2a" fill-opacity="0.8"/>
<circle cx="112.3" cy="269.5" r="0.5" fill="#2a2a2a" fill-opacity="0.8"/>
<circle cx="121.8" cy="269.7" r="0.5" fill="#2a2a2a" fill-opacity="0.8"/>
<circle cx="118.8" cy="262.6" r="0.5" fill="#2a2a2a" fill-opacity="0.8"/>
<line x1="152.4" y1="220.6" x2="152.4" y2="236.5" stroke="#222" stroke-width="0.7" stroke-dasharray="1.5 1.4"/>
<line x1="152.4" y1="264.3" x2="152.4" y2="299.6" stroke="#222" stroke-width="0.7" stroke-dasharray="1.5 1.4"/>
<line x1="145.5" y1="220.5" x2="159.3" y2="220.5" stroke="#333" stroke-width="0.6"/>
<line x1="145.5" y1="299.5" x2="159.3" y2="299.5" stroke="#333" stroke-width="0.6"/>
<rect x="138.6" y="236.5" width="27.6" height="27.8" fill="#fdf8ea" stroke="#000" stroke-opacity="0.6" stroke-width="0.6"/>
<line x1="138.6" y1="252.9" x2="166.2" y2="252.9" stroke="#000" stroke-width="1.6"/>
<circle cx="147.7" cy="285.3" r="0.5" fill="#2a2a2a" fill-opacity="0.8"/>
<circle cx="154.9" cy="241.0" r="0.5" fill="#2a2a2a" fill-opacity="0.8"/>
<circle cx="155.6" cy="265.7" r="0.5" fill="#2a2a2a" fill-opacity="0.8"/>
<circle cx="156.7" cy="275.9" r="0.5" fill="#2a2a2a" fill-opacity="0.8"/>
<circle cx="153.1" cy="275.0" r="0.5" fill="#2a2a2a" fill-opacity="0.8"/>
<circle cx="152.8" cy="254.2" r="0.5" fill="#2a2a2a" fill-opacity="0.8"/>
<circle cx="157.5" cy="270.7" r="0.5" fill="#2a2a2a" fill-opacity="0.8"/>
<circle cx="154.9" cy="283.9" r="0.5" fill="#2a2a2a" fill-opacity="0.8"/>
<circle cx="156.5" cy="225.9" r="0.5" fill="#2a2a2a" fill-opacity="0.8"/>
<circle cx="154.8" cy="288.8" r="0.5" fill="#2a2a2a" fill-opacity="0.8"/>
<circle cx="150.3" cy="264.3" r="0.5" fill="#2a2a2a" fill-opacity="0.8"/>
<circle cx="153.0" cy="293.8" r="0.5" fill="#2a2a2a" fill-opacity="0.8"/>
<circle cx="79.4" cy="258.5" r="0.5" fill="#2a2a2a" fill-opacity="0.8"/>
<polyline points="63.5,242.9 63.5,225.3 132.3,225.3 132.3,230.3" fill="none" stroke="#3a3a3a" stroke-width="0.7"/>
<polyline points="117.2,233.7 117.2,230.3 146.2,230.3 146.2,233.7" fill="none" stroke="#3a3a3a" stroke-width="0.7"/>
<polyline points="48.7,248.4 48.7,242.9 83.4,242.9 83.4,248.4" fill="none" stroke="#3a3a3a" stroke-width="0.7"/>
<text x="98.8" y="224.4" font-size="5.6" text-anchor="middle" font-weight="bold" fill="#1a1a1a" letter-spacing="0.35">**</text>
<polyline points="117.6,325.1 117.6,329.2 152.5,329.2 152.5,312.0" fill="none" stroke="#3a3a3a" stroke-width="0.7"/>
<text x="134.9" y="336.4" font-size="5.6" text-anchor="middle" font-weight="bold" fill="#1a1a1a" letter-spacing="0.35">**</text>
<rect x="209.4" y="215.6" width="149.3" height="143.5" fill="none" stroke="#3a3a3a" stroke-width="0.7"/>
<text x="198.3" y="207.5" font-size="7.0" text-anchor="start" font-weight="bold" fill="#111">E</text>
<text x="283.7" y="206.9" font-size="6.0" text-anchor="middle" font-weight="bold" fill="#1a1a1a" textLength="79.9" lengthAdjust="spacingAndGlyphs" stroke="#1a1a1a" stroke-width="0.12">Global Circumferential Strain</text>
<line x1="207.2" y1="237.5" x2="209.4" y2="237.5" stroke="#3a3a3a" stroke-width="0.7"/>
<text x="203.6" y="239.1" font-size="4.5" text-anchor="end" font-weight="normal" fill="#17122e" stroke="#17122e" stroke-width="0.1">-10</text>
<line x1="207.2" y1="266.6" x2="209.4" y2="266.6" stroke="#3a3a3a" stroke-width="0.7"/>
<text x="203.6" y="268.2" font-size="4.5" text-anchor="end" font-weight="normal" fill="#17122e" stroke="#17122e" stroke-width="0.1">-20</text>
<line x1="207.2" y1="295.6" x2="209.4" y2="295.6" stroke="#3a3a3a" stroke-width="0.7"/>
<text x="203.6" y="297.2" font-size="4.5" text-anchor="end" font-weight="normal" fill="#17122e" stroke="#17122e" stroke-width="0.1">-30</text>
<line x1="207.2" y1="324.6" x2="209.4" y2="324.6" stroke="#3a3a3a" stroke-width="0.7"/>
<text x="203.6" y="326.2" font-size="4.5" text-anchor="end" font-weight="normal" fill="#17122e" stroke="#17122e" stroke-width="0.1">-40</text>
<line x1="207.2" y1="353.7" x2="209.4" y2="353.7" stroke="#3a3a3a" stroke-width="0.7"/>
<text x="203.6" y="355.3" font-size="4.5" text-anchor="end" font-weight="normal" fill="#17122e" stroke="#17122e" stroke-width="0.1">-50</text>
<text transform="translate(192.3,287.4) rotate(-90)" font-size="4.4" text-anchor="middle" fill="#17122e" stroke="#17122e" stroke-width="0.12">[%]</text>
<line x1="231.9" y1="359.1" x2="231.9" y2="361.3" stroke="#3a3a3a" stroke-width="0.7"/>
<text x="231.9" y="369.5" font-size="4.4" text-anchor="middle" font-weight="normal" fill="#17122e" stroke="#17122e" stroke-width="0.08">Control</text>
<line x1="266.5" y1="359.1" x2="266.5" y2="361.3" stroke="#3a3a3a" stroke-width="0.7"/>
<text x="266.5" y="369.5" font-size="4.4" text-anchor="middle" font-weight="normal" fill="#17122e" stroke="#17122e" stroke-width="0.08">HFpEF</text>
<line x1="301.1" y1="359.1" x2="301.1" y2="361.3" stroke="#3a3a3a" stroke-width="0.7"/>
<text x="301.1" y="369.5" font-size="4.4" text-anchor="middle" font-weight="normal" fill="#17122e" stroke="#17122e" stroke-width="0.08">HFmrEF</text>
<line x1="335.7" y1="359.1" x2="335.7" y2="361.3" stroke="#3a3a3a" stroke-width="0.7"/>
<text x="335.7" y="369.5" font-size="4.4" text-anchor="middle" font-weight="normal" fill="#17122e" stroke="#17122e" stroke-width="0.08">HFrEF</text>
<line x1="231.9" y1="269.9" x2="231.9" y2="300.7" stroke="#222" stroke-width="0.7" stroke-dasharray="1.5 1.4"/>
<line x1="231.9" y1="323.5" x2="231.9" y2="334.6" stroke="#222" stroke-width="0.7" stroke-dasharray="1.5 1.4"/>
<line x1="225.0" y1="269.5" x2="238.8" y2="269.5" stroke="#333" stroke-width="0.6"/>
<line x1="225.0" y1="334.5" x2="238.8" y2="334.5" stroke="#333" stroke-width="0.6"/>
<rect x="218.1" y="300.7" width="27.6" height="22.8" fill="#0a9a0a" stroke="#000" stroke-opacity="0.6" stroke-width="0.6"/>
<line x1="218.1" y1="304.7" x2="245.7" y2="304.7" stroke="#000" stroke-width="1.6"/>
<circle cx="231.8" cy="304.0" r="0.5" fill="#2a2a2a" fill-opacity="0.8"/>
<circle cx="233.2" cy="285.3" r="0.5" fill="#2a2a2a" fill-opacity="0.8"/>
<circle cx="233.0" cy="273.2" r="0.5" fill="#2a2a2a" fill-opacity="0.8"/>
<circle cx="232.8" cy="283.0" r="0.5" fill="#2a2a2a" fill-opacity="0.8"/>
<circle cx="231.1" cy="319.0" r="0.5" fill="#2a2a2a" fill-opacity="0.8"/>
<circle cx="233.8" cy="288.7" r="0.5" fill="#2a2a2a" fill-opacity="0.8"/>
<circle cx="230.4" cy="292.4" r="0.5" fill="#2a2a2a" fill-opacity="0.8"/>
<circle cx="231.9" cy="271.1" r="0.5" fill="#2a2a2a" fill-opacity="0.8"/>
<circle cx="231.9" cy="317.3" r="0.5" fill="#2a2a2a" fill-opacity="0.8"/>
<circle cx="232.3" cy="305.6" r="0.5" fill="#2a2a2a" fill-opacity="0.8"/>
<circle cx="232.9" cy="330.4" r="0.5" fill="#2a2a2a" fill-opacity="0.8"/>
<circle cx="234.4" cy="276.8" r="0.5" fill="#2a2a2a" fill-opacity="0.8"/>
<line x1="266.5" y1="291.4" x2="266.5" y2="298.4" stroke="#222" stroke-width="0.7" stroke-dasharray="1.5 1.4"/>
<line x1="266.5" y1="325.6" x2="266.5" y2="353.7" stroke="#222" stroke-width="0.7" stroke-dasharray="1.5 1.4"/>
<line x1="259.6" y1="291.5" x2="273.4" y2="291.5" stroke="#333" stroke-width="0.6"/>
<line x1="259.6" y1="353.5" x2="273.4" y2="353.5" stroke="#333" stroke-width="0.6"/>
<rect x="252.7" y="298.4" width="27.6" height="27.2" fill="#e6e600" stroke="#000" stroke-opacity="0.6" stroke-width="0.6"/>
<line x1="252.7" y1="305.4" x2="280.3" y2="305.4" stroke="#000" stroke-width="1.6"/>
<circle cx="267.6" cy="322.2" r="0.5" fill="#2a2a2a" fill-opacity="0.8"/>
<circle cx="264.2" cy="343.4" r="0.5" fill="#2a2a2a" fill-opacity="0.8"/>
<circle cx="264.3" cy="334.2" r="0.5" fill="#2a2a2a" fill-opacity="0.8"/>
<circle cx="268.3" cy="352.6" r="0.5" fill="#2a2a2a" fill-opacity="0.8"/>
<circle cx="264.0" cy="335.4" r="0.5" fill="#2a2a2a" fill-opacity="0.8"/>
<circle cx="270.3" cy="331.0" r="0.5" fill="#2a2a2a" fill-opacity="0.8"/>
<circle cx="264.7" cy="294.8" r="0.5" fill="#2a2a2a" fill-opacity="0.8"/>
<circle cx="267.8" cy="299.5" r="0.5" fill="#2a2a2a" fill-opacity="0.8"/>
<circle cx="270.1" cy="307.3" r="0.5" fill="#2a2a2a" fill-opacity="0.8"/>
<circle cx="268.2" cy="301.6" r="0.5" fill="#2a2a2a" fill-opacity="0.8"/>
<circle cx="270.5" cy="345.6" r="0.5" fill="#2a2a2a" fill-opacity="0.8"/>
<circle cx="268.8" cy="333.2" r="0.5" fill="#2a2a2a" fill-opacity="0.8"/>
<line x1="301.1" y1="246.4" x2="301.1" y2="255.9" stroke="#222" stroke-width="0.7" stroke-dasharray="1.5 1.4"/>
<line x1="301.1" y1="276.1" x2="301.1" y2="284.5" stroke="#222" stroke-width="0.7" stroke-dasharray="1.5 1.4"/>
<line x1="294.2" y1="246.5" x2="308.0" y2="246.5" stroke="#333" stroke-width="0.6"/>
<line x1="294.2" y1="284.5" x2="308.0" y2="284.5" stroke="#333" stroke-width="0.6"/>
<rect x="287.3" y="255.9" width="27.6" height="20.2" fill="#efbe7d" stroke="#000" stroke-opacity="0.6" stroke-width="0.6"/>
<line x1="287.3" y1="265.7" x2="314.9" y2="265.7" stroke="#000" stroke-width="1.6"/>
<circle cx="300.7" cy="257.6" r="0.5" fill="#2a2a2a" fill-opacity="0.8"/>
<circle cx="302.9" cy="263.9" r="0.5" fill="#2a2a2a" fill-opacity="0.8"/>
<circle cx="302.5" cy="256.4" r="0.5" fill="#2a2a2a" fill-opacity="0.8"/>
<circle cx="303.3" cy="283.0" r="0.5" fill="#2a2a2a" fill-opacity="0.8"/>
<circle cx="304.1" cy="255.7" r="0.5" fill="#2a2a2a" fill-opacity="0.8"/>
<circle cx="300.6" cy="283.2" r="0.5" fill="#2a2a2a" fill-opacity="0.8"/>
<circle cx="300.3" cy="246.4" r="0.5" fill="#2a2a2a" fill-opacity="0.8"/>
<circle cx="303.2" cy="260.9" r="0.5" fill="#2a2a2a" fill-opacity="0.8"/>
<circle cx="298.3" cy="254.1" r="0.5" fill="#2a2a2a" fill-opacity="0.8"/>
<circle cx="301.6" cy="265.6" r="0.5" fill="#2a2a2a" fill-opacity="0.8"/>
<circle cx="303.0" cy="249.8" r="0.5" fill="#2a2a2a" fill-opacity="0.8"/>
<circle cx="301.2" cy="261.6" r="0.5" fill="#2a2a2a" fill-opacity="0.8"/>
<line x1="335.7" y1="220.6" x2="335.7" y2="235.9" stroke="#222" stroke-width="0.7" stroke-dasharray="1.5 1.4"/>
<line x1="335.7" y1="251.2" x2="335.7" y2="266.0" stroke="#222" stroke-width="0.7" stroke-dasharray="1.5 1.4"/>
<line x1="328.8" y1="220.5" x2="342.6" y2="220.5" stroke="#333" stroke-width="0.6"/>
<line x1="328.8" y1="266.5" x2="342.6" y2="266.5" stroke="#333" stroke-width="0.6"/>
<rect x="321.9" y="235.9" width="27.6" height="15.3" fill="#fdf8ea" stroke="#000" stroke-opacity="0.6" stroke-width="0.6"/>
<line x1="321.9" y1="244.1" x2="349.5" y2="244.1" stroke="#000" stroke-width="1.6"/>
<circle cx="336.2" cy="234.4" r="0.5" fill="#2a2a2a" fill-opacity="0.8"/>
<circle cx="335.8" cy="231.2" r="0.5" fill="#2a2a2a" fill-opacity="0.8"/>
<circle cx="333.2" cy="254.7" r="0.5" fill="#2a2a2a" fill-opacity="0.8"/>
<circle cx="334.2" cy="250.5" r="0.5" fill="#2a2a2a" fill-opacity="0.8"/>
<circle cx="334.7" cy="238.3" r="0.5" fill="#2a2a2a" fill-opacity="0.8"/>
<circle cx="330.9" cy="235.4" r="0.5" fill="#2a2a2a" fill-opacity="0.8"/>
<circle cx="337.1" cy="253.5" r="0.5" fill="#2a2a2a" fill-opacity="0.8"/>
<circle cx="335.6" cy="249.8" r="0.5" fill="#2a2a2a" fill-opacity="0.8"/>
<circle cx="340.1" cy="261.1" r="0.5" fill="#2a2a2a" fill-opacity="0.8"/>
<circle cx="336.9" cy="249.1" r="0.5" fill="#2a2a2a" fill-opacity="0.8"/>
<circle cx="335.3" cy="226.9" r="0.5" fill="#2a2a2a" fill-opacity="0.8"/>
<circle cx="331.3" cy="244.4" r="0.5" fill="#2a2a2a" fill-opacity="0.8"/>
<polyline points="246.6,242.9 246.6,225.3 316.0,225.3 316.0,230.3" fill="none" stroke="#3a3a3a" stroke-width="0.7"/>
<polyline points="300.5,233.7 300.5,230.3 329.6,230.3 329.6,233.0" fill="none" stroke="#3a3a3a" stroke-width="0.7"/>
<polyline points="231.5,248.0 231.5,242.9 266.4,242.9 266.4,248.0" fill="none" stroke="#3a3a3a" stroke-width="0.7"/>
<text x="282.3" y="224.4" font-size="5.6" text-anchor="middle" font-weight="bold" fill="#1a1a1a" letter-spacing="0.35">**</text>
<polyline points="300.8,301.3 300.8,306.3 335.4,306.3 335.4,288.3" fill="none" stroke="#3a3a3a" stroke-width="0.7"/>
<text x="317.8" y="313.3" font-size="5.6" text-anchor="middle" font-weight="bold" fill="#1a1a1a" letter-spacing="0.35">**</text>
<rect x="392.6" y="215.6" width="149.2" height="143.5" fill="none" stroke="#3a3a3a" stroke-width="0.7"/>
<text x="381.3" y="207.5" font-size="7.0" text-anchor="start" font-weight="bold" fill="#111">F</text>
<text x="466.8" y="206.9" font-size="6.0" text-anchor="middle" font-weight="bold" fill="#1a1a1a" textLength="62.5" lengthAdjust="spacingAndGlyphs" stroke="#1a1a1a" stroke-width="0.12">Strain Ratio (GLS/GCS)</text>
<line x1="390.4" y1="230.3" x2="392.6" y2="230.3" stroke="#3a3a3a" stroke-width="0.7"/>
<text x="386.8" y="231.9" font-size="4.5" text-anchor="end" font-weight="normal" fill="#17122e" stroke="#17122e" stroke-width="0.1">1.6</text>
<line x1="390.4" y1="250.9" x2="392.6" y2="250.9" stroke="#3a3a3a" stroke-width="0.7"/>
<text x="386.8" y="252.5" font-size="4.5" text-anchor="end" font-weight="normal" fill="#17122e" stroke="#17122e" stroke-width="0.1">1.4</text>
<line x1="390.4" y1="271.6" x2="392.6" y2="271.6" stroke="#3a3a3a" stroke-width="0.7"/>
<text x="386.8" y="273.2" font-size="4.5" text-anchor="end" font-weight="normal" fill="#17122e" stroke="#17122e" stroke-width="0.1">1.2</text>
<line x1="390.4" y1="292.2" x2="392.6" y2="292.2" stroke="#3a3a3a" stroke-width="0.7"/>
<text x="386.8" y="293.8" font-size="4.5" text-anchor="end" font-weight="normal" fill="#17122e" stroke="#17122e" stroke-width="0.1">1.0</text>
<line x1="390.4" y1="312.8" x2="392.6" y2="312.8" stroke="#3a3a3a" stroke-width="0.7"/>
<text x="386.8" y="314.4" font-size="4.5" text-anchor="end" font-weight="normal" fill="#17122e" stroke="#17122e" stroke-width="0.1">0.8</text>
<line x1="390.4" y1="333.4" x2="392.6" y2="333.4" stroke="#3a3a3a" stroke-width="0.7"/>
<text x="386.8" y="335.0" font-size="4.5" text-anchor="end" font-weight="normal" fill="#17122e" stroke="#17122e" stroke-width="0.1">0.6</text>
<line x1="390.4" y1="354.1" x2="392.6" y2="354.1" stroke="#3a3a3a" stroke-width="0.7"/>
<text x="386.8" y="355.7" font-size="4.5" text-anchor="end" font-weight="normal" fill="#17122e" stroke="#17122e" stroke-width="0.1">0.4</text>
<text transform="translate(375.5,287.4) rotate(-90)" font-size="4.4" text-anchor="middle" fill="#17122e" stroke="#17122e" stroke-width="0.12"></text>
<line x1="414.9" y1="359.1" x2="414.9" y2="361.3" stroke="#3a3a3a" stroke-width="0.7"/>
<text x="414.9" y="369.5" font-size="4.4" text-anchor="middle" font-weight="normal" fill="#17122e" stroke="#17122e" stroke-width="0.08">Control</text>
<line x1="449.5" y1="359.1" x2="449.5" y2="361.3" stroke="#3a3a3a" stroke-width="0.7"/>
<text x="449.5" y="369.5" font-size="4.4" text-anchor="middle" font-weight="normal" fill="#17122e" stroke="#17122e" stroke-width="0.08">HFpEF</text>
<line x1="484.1" y1="359.1" x2="484.1" y2="361.3" stroke="#3a3a3a" stroke-width="0.7"/>
<text x="484.1" y="369.5" font-size="4.4" text-anchor="middle" font-weight="normal" fill="#17122e" stroke="#17122e" stroke-width="0.08">HFmrEF</text>
<line x1="518.7" y1="359.1" x2="518.7" y2="361.3" stroke="#3a3a3a" stroke-width="0.7"/>
<text x="518.7" y="369.5" font-size="4.4" text-anchor="middle" font-weight="normal" fill="#17122e" stroke="#17122e" stroke-width="0.08">HFrEF</text>
<line x1="414.9" y1="308.6" x2="414.9" y2="320.6" stroke="#222" stroke-width="0.7" stroke-dasharray="1.5 1.4"/>
<line x1="414.9" y1="331.7" x2="414.9" y2="341.9" stroke="#222" stroke-width="0.7" stroke-dasharray="1.5 1.4"/>
<line x1="408.0" y1="308.5" x2="421.8" y2="308.5" stroke="#333" stroke-width="0.6"/>
<line x1="408.0" y1="341.5" x2="421.8" y2="341.5" stroke="#333" stroke-width="0.6"/>
<rect x="401.1" y="320.6" width="27.6" height="11.1" fill="#0a9a0a" stroke="#000" stroke-opacity="0.6" stroke-width="0.6"/>
<line x1="401.1" y1="326.9" x2="428.7" y2="326.9" stroke="#000" stroke-width="1.6"/>
<circle cx="410.3" cy="335.4" r="0.5" fill="#2a2a2a" fill-opacity="0.8"/>
<circle cx="414.8" cy="336.1" r="0.5" fill="#2a2a2a" fill-opacity="0.8"/>
<circle cx="410.5" cy="331.3" r="0.5" fill="#2a2a2a" fill-opacity="0.8"/>
<circle cx="412.3" cy="331.7" r="0.5" fill="#2a2a2a" fill-opacity="0.8"/>
<circle cx="415.0" cy="313.0" r="0.5" fill="#2a2a2a" fill-opacity="0.8"/>
<circle cx="415.5" cy="320.6" r="0.5" fill="#2a2a2a" fill-opacity="0.8"/>
<circle cx="418.5" cy="327.2" r="0.5" fill="#2a2a2a" fill-opacity="0.8"/>
<circle cx="417.7" cy="329.5" r="0.5" fill="#2a2a2a" fill-opacity="0.8"/>
<circle cx="412.4" cy="324.9" r="0.5" fill="#2a2a2a" fill-opacity="0.8"/>
<circle cx="412.3" cy="308.7" r="0.5" fill="#2a2a2a" fill-opacity="0.8"/>
<circle cx="416.1" cy="325.3" r="0.5" fill="#2a2a2a" fill-opacity="0.8"/>
<circle cx="411.1" cy="326.4" r="0.5" fill="#2a2a2a" fill-opacity="0.8"/>
<line x1="449.5" y1="311.3" x2="449.5" y2="326.7" stroke="#222" stroke-width="0.7" stroke-dasharray="1.5 1.4"/>
<line x1="449.5" y1="340.3" x2="449.5" y2="353.9" stroke="#222" stroke-width="0.7" stroke-dasharray="1.5 1.4"/>
<line x1="442.6" y1="311.5" x2="456.4" y2="311.5" stroke="#333" stroke-width="0.6"/>
<line x1="442.6" y1="353.5" x2="456.4" y2="353.5" stroke="#333" stroke-width="0.6"/>
<rect x="435.7" y="326.7" width="27.6" height="13.6" fill="#e6e600" stroke="#000" stroke-opacity="0.6" stroke-width="0.6"/>
<line x1="435.7" y1="336.5" x2="463.3" y2="336.5" stroke="#000" stroke-width="1.6"/>
<circle cx="449.0" cy="342.7" r="0.5" fill="#2a2a2a" fill-opacity="0.8"/>
<circle cx="448.8" cy="322.0" r="0.5" fill="#2a2a2a" fill-opacity="0.8"/>
<circle cx="451.2" cy="342.4" r="0.5" fill="#2a2a2a" fill-opacity="0.8"/>
<circle cx="450.4" cy="320.0" r="0.5" fill="#2a2a2a" fill-opacity="0.8"/>
<circle cx="449.1" cy="332.3" r="0.5" fill="#2a2a2a" fill-opacity="0.8"/>
<circle cx="444.0" cy="327.6" r="0.5" fill="#2a2a2a" fill-opacity="0.8"/>
<circle cx="445.9" cy="344.0" r="0.5" fill="#2a2a2a" fill-opacity="0.8"/>
<circle cx="450.0" cy="337.6" r="0.5" fill="#2a2a2a" fill-opacity="0.8"/>
<circle cx="448.9" cy="317.6" r="0.5" fill="#2a2a2a" fill-opacity="0.8"/>
<circle cx="448.7" cy="322.1" r="0.5" fill="#2a2a2a" fill-opacity="0.8"/>
<circle cx="449.4" cy="335.5" r="0.5" fill="#2a2a2a" fill-opacity="0.8"/>
<circle cx="447.5" cy="311.8" r="0.5" fill="#2a2a2a" fill-opacity="0.8"/>
<line x1="484.1" y1="274.1" x2="484.1" y2="299.5" stroke="#222" stroke-width="0.7" stroke-dasharray="1.5 1.4"/>
<line x1="484.1" y1="322.4" x2="484.1" y2="335.3" stroke="#222" stroke-width="0.7" stroke-dasharray="1.5 1.4"/>
<line x1="477.2" y1="274.5" x2="491.0" y2="274.5" stroke="#333" stroke-width="0.6"/>
<line x1="477.2" y1="335.5" x2="491.0" y2="335.5" stroke="#333" stroke-width="0.6"/>
<rect x="470.3" y="299.5" width="27.6" height="22.9" fill="#efbe7d" stroke="#000" stroke-opacity="0.6" stroke-width="0.6"/>
<line x1="470.3" y1="315.8" x2="497.9" y2="315.8" stroke="#000" stroke-width="1.6"/>
<circle cx="485.9" cy="315.2" r="0.5" fill="#2a2a2a" fill-opacity="0.8"/>
<circle cx="484.8" cy="316.5" r="0.5" fill="#2a2a2a" fill-opacity="0.8"/>
<circle cx="483.2" cy="305.7" r="0.5" fill="#2a2a2a" fill-opacity="0.8"/>
<circle cx="482.3" cy="302.5" r="0.5" fill="#2a2a2a" fill-opacity="0.8"/>
<circle cx="482.9" cy="328.8" r="0.5" fill="#2a2a2a" fill-opacity="0.8"/>
<circle cx="484.4" cy="286.3" r="0.5" fill="#2a2a2a" fill-opacity="0.8"/>
<circle cx="489.6" cy="275.2" r="0.5" fill="#2a2a2a" fill-opacity="0.8"/>
<circle cx="483.3" cy="302.2" r="0.5" fill="#2a2a2a" fill-opacity="0.8"/>
<circle cx="486.8" cy="301.6" r="0.5" fill="#2a2a2a" fill-opacity="0.8"/>
<circle cx="478.6" cy="290.5" r="0.5" fill="#2a2a2a" fill-opacity="0.8"/>
<circle cx="485.5" cy="287.0" r="0.5" fill="#2a2a2a" fill-opacity="0.8"/>
<circle cx="489.6" cy="309.7" r="0.5" fill="#2a2a2a" fill-opacity="0.8"/>
<line x1="518.7" y1="220.6" x2="518.7" y2="277.3" stroke="#222" stroke-width="0.7" stroke-dasharray="1.5 1.4"/>
<line x1="518.7" y1="324.0" x2="518.7" y2="336.9" stroke="#222" stroke-width="0.7" stroke-dasharray="1.5 1.4"/>
<line x1="511.8" y1="220.5" x2="525.6" y2="220.5" stroke="#333" stroke-width="0.6"/>
<line x1="511.8" y1="336.5" x2="525.6" y2="336.5" stroke="#333" stroke-width="0.6"/>
<rect x="504.9" y="277.3" width="27.6" height="46.7" fill="#fdf8ea" stroke="#000" stroke-opacity="0.6" stroke-width="0.6"/>
<line x1="504.9" y1="307.4" x2="532.5" y2="307.4" stroke="#000" stroke-width="1.6"/>
<circle cx="520.5" cy="331.4" r="0.5" fill="#2a2a2a" fill-opacity="0.8"/>
<circle cx="521.0" cy="236.0" r="0.5" fill="#2a2a2a" fill-opacity="0.8"/>
<circle cx="519.9" cy="323.7" r="0.5" fill="#2a2a2a" fill-opacity="0.8"/>
<circle cx="516.1" cy="302.4" r="0.5" fill="#2a2a2a" fill-opacity="0.8"/>
<circle cx="519.3" cy="277.1" r="0.5" fill="#2a2a2a" fill-opacity="0.8"/>
<circle cx="523.8" cy="223.5" r="0.5" fill="#2a2a2a" fill-opacity="0.8"/>
<circle cx="521.5" cy="273.0" r="0.5" fill="#2a2a2a" fill-opacity="0.8"/>
<circle cx="518.8" cy="255.7" r="0.5" fill="#2a2a2a" fill-opacity="0.8"/>
<circle cx="520.1" cy="257.4" r="0.5" fill="#2a2a2a" fill-opacity="0.8"/>
<circle cx="520.4" cy="318.3" r="0.5" fill="#2a2a2a" fill-opacity="0.8"/>
<circle cx="522.7" cy="318.2" r="0.5" fill="#2a2a2a" fill-opacity="0.8"/>
<circle cx="518.7" cy="234.6" r="0.5" fill="#2a2a2a" fill-opacity="0.8"/>
<polyline points="429.5,247.6 429.5,230.3 510.6,230.3 510.6,236.2" fill="none" stroke="#3a3a3a" stroke-width="0.7"/>
<polyline points="414.7,253.1 414.7,247.6 449.6,247.6 449.6,253.1" fill="none" stroke="#3a3a3a" stroke-width="0.7"/>
<text x="465.0" y="229.0" font-size="5.6" text-anchor="middle" font-weight="bold" fill="#1a1a1a" letter-spacing="0.35">**</text>
<polyline points="449.6,267.7 449.6,259.3 484.5,259.3 484.5,263.5" fill="none" stroke="#3a3a3a" stroke-width="0.7"/>
<text x="467.7" y="258.9" font-size="5.6" text-anchor="middle" font-weight="bold" fill="#1a1a1a" letter-spacing="0.35">**</text>
</svg>
</body></html>
